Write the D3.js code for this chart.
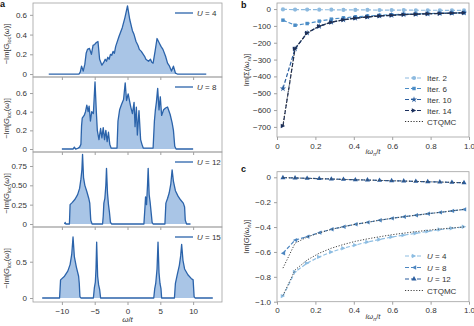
<!DOCTYPE html>
<html>
<head>
<meta charset="utf-8">
<script src="https://cdn.jsdelivr.net/npm/d3@7"></script>
<style>
  body { margin: 0; background: #fff; }
  svg text { font-family: "Liberation Sans", Arial, sans-serif; fill: #333; }
</style>
</head>
<body>
<div class="chart"></div>
<script>
// ---- data ----
// panel a: local spectral functions, [omega, -Im G]
var dosU4 = [[-12,0],[-7.4,0],[-7.2,0.02],[-7.0,0.08],[-6.75,0.03],[-6.5,0.1],[-6.3,0.21],[-6.1,0.25],[-5.8,0.26],[-5.5,0.2],[-5.25,0.29],[-5.0,0.3],[-4.75,0.32],[-4.5,0.33],[-4.25,0.15],[-3.9,0.09],[-3.6,0.12],[-3.4,0.15],[-3.2,0.13],[-3.0,0.17],[-2.8,0.15],[-2.6,0.2],[-2.4,0.19],[-2.2,0.23],[-2.0,0.21],[-1.8,0.28],[-1.3,0.38],[-0.8,0.47],[-0.4,0.57],[0,0.69],[0.35,0.55],[0.75,0.44],[1.0,0.4],[1.3,0.33],[1.6,0.29],[1.8,0.25],[2.1,0.23],[2.3,0.21],[2.6,0.18],[2.8,0.15],[3.0,0.14],[3.2,0.13],[3.5,0.15],[3.7,0.12],[3.9,0.11],[4.2,0.23],[4.5,0.36],[4.8,0.32],[5.1,0.28],[5.4,0.25],[5.8,0.18],[6.1,0.11],[6.4,0.08],[6.7,0.03],[7.0,0.08],[7.3,0.01],[7.6,0],[12,0]];
var dosU8 = [[-10,0],[-8.3,0],[-8.1,0.02],[-7.9,0],[-7.5,0.01],[-7.3,0.02],[-7.1,0.05],[-7.0,0.25],[-6.9,0.33],[-6.6,0.36],[-6.4,0.4],[-6.2,0.47],[-6.0,0.4],[-5.85,0.46],[-5.65,0.3],[-5.45,0.4],[-5.2,0.38],[-4.95,0.72],[-4.75,0.4],[-4.6,0.2],[-4.35,0.1],[-4.1,0.22],[-3.9,0.12],[-3.7,0.23],[-3.5,0.1],[-3.3,0.2],[-3.1,0.08],[-2.9,0.18],[-2.7,0.05],[-2.5,0.01],[-1.6,0.01],[-1.45,0.3],[-1.2,0.42],[-0.9,0.48],[-0.6,0.53],[-0.35,0.71],[-0.15,0.52],[0.1,0.59],[0.5,0.45],[0.75,0.38],[1.0,0.5],[1.15,0.24],[1.35,0.45],[1.5,0.15],[1.75,0.41],[2.0,0.1],[2.2,0.05],[2.4,0.01],[3.9,0.01],[4.1,0.3],[4.25,0.42],[4.4,0.5],[4.6,0.65],[4.8,0.42],[5.0,0.56],[5.2,0.36],[5.5,0.42],[5.8,0.44],[6.1,0.45],[6.5,0.37],[6.8,0.28],[7.0,0.2],[7.2,0.03],[7.4,0],[10,0]];
var dosU12 = [[-9.6,0],[-9.5,0.02],[-9.4,0],[-8.85,0],[-8.75,0.25],[-8.4,0.28],[-8.0,0.32],[-7.6,0.38],[-7.3,0.46],[-7.1,0.58],[-6.95,0.7],[-6.85,0.9],[-6.7,0.6],[-6.5,0.5],[-6.2,0.42],[-5.9,0.33],[-5.75,0.27],[-5.6,0.05],[-5.4,0],[-3.8,0],[-3.7,0.1],[-3.6,0.27],[-3.45,0.33],[-3.3,0.5],[-3.2,0.72],[-3.05,0.4],[-2.9,0.25],[-2.75,0.15],[-2.6,0.02],[-2.4,0],[2.5,0],[2.65,0.2],[2.75,0.35],[2.9,0.25],[3.05,0.5],[3.15,0.72],[3.3,0.38],[3.45,0.28],[3.6,0.15],[3.75,0.02],[3.9,0],[5.7,0],[5.85,0.27],[6.1,0.33],[6.35,0.4],[6.6,0.52],[6.8,0.7],[7.0,0.55],[7.3,0.43],[7.7,0.36],[8.1,0.31],[8.5,0.27],[8.7,0.22],[8.8,0.05],[9.0,0],[9.6,0]];
var dosU15 = [[-13,0],[-10.35,0],[-10.2,0.25],[-9.6,0.3],[-9.1,0.37],[-8.75,0.46],[-8.5,0.6],[-8.3,0.84],[-8.1,0.57],[-7.8,0.43],[-7.45,0.3],[-7.35,0.2],[-7.25,0.02],[-7.1,0],[-5.2,0],[-5.05,0.14],[-4.9,0.22],[-4.8,0.4],[-4.7,0.77],[-4.55,0.3],[-4.4,0.18],[-4.25,0.12],[-4.1,0],[4.0,0],[4.15,0.13],[4.3,0.2],[4.5,0.4],[4.65,0.77],[4.8,0.35],[4.95,0.2],[5.1,0.13],[5.2,0],[7.15,0],[7.3,0.2],[7.6,0.33],[7.9,0.45],[8.1,0.58],[8.25,0.74],[8.45,0.52],[8.7,0.4],[9.2,0.32],[9.7,0.27],[10.0,0.25],[10.15,0.02],[10.3,0],[13,0]];
var dosU = [4, 8, 12, 15];

// Matsubara frequencies (panels b, c)
var wn = [0.031,0.094,0.157,0.220,0.283,0.346,0.408,0.471,0.534,0.597,0.660,0.723,0.785,0.848,0.911,0.974];

// panel b: Im Sigma
var sigIter2  = [-2,-3,-3,-4,-4,-5,-5,-5,-6,-6,-6,-7,-7,-7,-8,-8];
var sigIter6  = [-66,-96,-86,-72,-60,-52,-46,-41,-37,-34,-31,-29,-27,-25,-24,-22];
var sigIter10 = [-472,-236,-142,-102,-78,-64,-54,-47,-41,-37,-33,-30.5,-28,-26,-24,-22.6];
var sigIter14 = [-695,-236,-142,-102,-78,-64,-54,-47,-41,-37,-33,-30.5,-28,-26,-24,-22.6];
var sigCTQMC  = [-690,-234,-141,-101,-78,-64,-54,-47,-41,-37,-33,-30.5,-28,-26,-24,-22.6];

// panel c: Im G
var gU4  = [-0.955,-0.76,-0.69,-0.64,-0.6,-0.57,-0.545,-0.52,-0.5,-0.48,-0.465,-0.45,-0.435,-0.42,-0.41,-0.398];
var gU8  = [-0.61,-0.505,-0.477,-0.445,-0.418,-0.397,-0.378,-0.362,-0.345,-0.33,-0.317,-0.305,-0.293,-0.282,-0.27,-0.258];
var gU12 = [-0.003,-0.005,-0.008,-0.011,-0.014,-0.017,-0.02,-0.022,-0.025,-0.028,-0.03,-0.033,-0.036,-0.038,-0.041,-0.044];
var gCT4  = [-0.95,-0.745,-0.665,-0.61,-0.57,-0.54,-0.515,-0.495,-0.478,-0.462,-0.449,-0.437,-0.426,-0.416,-0.407,-0.399];
var gCT8  = [-0.73,-0.53,-0.48,-0.447,-0.419,-0.397,-0.378,-0.362,-0.345,-0.33,-0.317,-0.305,-0.293,-0.282,-0.27,-0.258];
var gCT12 = [-0.003,-0.005,-0.008,-0.011,-0.014,-0.017,-0.02,-0.022,-0.025,-0.028,-0.03,-0.033,-0.036,-0.038,-0.041,-0.044];

var aTicksX = [-10, -5, 0, 5, 10];
var bTicksY = [0, -100, -200, -300, -400, -500, -600, -700];
var cTicksY = [0, -0.2, -0.4, -0.6, -0.8, -1.0];
var bcTicksX = [0, 0.2, 0.4, 0.6, 0.8, 1.0];

var width = 474, height = 326;
var frameCol = "#a0a0a0";
var fs = 8;

var svg = d3.select(".chart").append("svg")
  .attr("width", width).attr("height", height);

function minus(s) { return String(s).replace("-", "\u2212"); }

// ---------- panel a ----------
var ax = d3.scaleLinear().domain([-14.4, 14.4]).range([33, 222]);
var aPanels = [
  { data: dosU4,  top: 3,   bot: 77,  dom: [-0.03, 0.72],  ticks: [0, 0.2, 0.4, 0.6], fmt: function(d){ return d === 0 ? "0" : d3.format(".1f")(d); } },
  { data: dosU8,  top: 77,  bot: 152, dom: [-0.032, 0.772], ticks: [0, 0.2, 0.4, 0.6], fmt: function(d){ return d === 0 ? "0" : d3.format(".1f")(d); } },
  { data: dosU12, top: 152, bot: 227, dom: [-0.039, 0.931], ticks: [0, 0.25, 0.5, 0.75], fmt: function(d){ return d === 0 ? "0" : d3.format(".2f")(d); } },
  { data: dosU15, top: 227, bot: 302, dom: [-0.055, 0.978], ticks: [0, 0.5], fmt: function(d){ return d === 0 ? "0" : d3.format(".1f")(d); } }
];

aPanels.forEach(function(p, i) {
  var y = d3.scaleLinear().domain(p.dom).range([p.bot, p.top]);
  var g = svg.append("g");
  var clipId = "clipA" + i;
  svg.append("clipPath").attr("id", clipId).append("rect")
    .attr("x", 33).attr("y", p.top).attr("width", 189).attr("height", p.bot - p.top);

  var area = d3.area().x(function(d){ return ax(d[0]); }).y0(y(0)).y1(function(d){ return y(d[1]); });
  var line = d3.line().x(function(d){ return ax(d[0]); }).y(function(d){ return y(d[1]); });
  g.append("path").datum(p.data).attr("d", area).attr("fill", "#a9c5e6").attr("clip-path", "url(#" + clipId + ")");
  g.append("path").datum(p.data).attr("d", line).attr("fill", "none")
    .attr("stroke", "#2b63aa").attr("stroke-width", 1.3).attr("stroke-linejoin", "round")
    .attr("clip-path", "url(#" + clipId + ")");

  g.append("rect").attr("x", 33).attr("y", p.top).attr("width", 189).attr("height", p.bot - p.top)
    .attr("fill", "none").attr("stroke", frameCol).attr("stroke-width", 0.8);

  var yAxis = g.append("g").attr("transform", "translate(33,0)")
    .call(d3.axisLeft(y).tickValues(p.ticks).tickSize(3).tickFormat(p.fmt));
  yAxis.select(".domain").remove();
  yAxis.selectAll("line").attr("stroke", frameCol);
  yAxis.selectAll("text").attr("font-size", fs).attr("fill", "#333").attr("font-family", "Liberation Sans, Arial");

  var xAxis = g.append("g").attr("transform", "translate(0," + p.bot + ")")
    .call(d3.axisBottom(ax).tickValues(aTicksX).tickSize(3).tickFormat(i === 3 ? function(d){ return minus(d); } : ""));
  xAxis.select(".domain").remove();
  xAxis.selectAll("line").attr("stroke", frameCol);
  xAxis.selectAll("text").attr("font-size", fs).attr("fill", "#333").attr("font-family", "Liberation Sans, Arial");

  // legend
  var ly = p.top + 10;
  g.append("line").attr("x1", 175).attr("x2", 193).attr("y1", ly).attr("y2", ly)
    .attr("stroke", "#2b63aa").attr("stroke-width", 1.3);
  var t = g.append("text").attr("x", 197).attr("y", ly + 3).attr("font-size", fs);
  t.append("tspan").attr("font-style", "italic").text("U");
  t.append("tspan").text(" = " + dosU[i]);

  // y label
  var yl = g.append("text").attr("transform", "translate(9," + ((p.top + p.bot) / 2 + 4) + ") rotate(-90)")
    .attr("text-anchor", "middle").attr("font-size", 7.5);
  yl.append("tspan").text("\u2212Im[");
  yl.append("tspan").attr("font-style", "italic").text("G");
  yl.append("tspan").attr("font-size", 5.5).attr("dy", 2).text("loc");
  yl.append("tspan").attr("dy", -2).text("(");
  yl.append("tspan").attr("font-style", "italic").text("\u03c9");
  yl.append("tspan").text(")]");
});

var axl = svg.append("text").attr("x", 127.5).attr("y", 322).attr("text-anchor", "middle").attr("font-size", fs);
axl.append("tspan").attr("font-style", "italic").text("\u03c9");
axl.append("tspan").text("/");
axl.append("tspan").attr("font-style", "italic").text("t");

svg.append("text").attr("x", 0).attr("y", 7).attr("font-size", 9).attr("font-weight", "bold").style("fill", "#111").text("a");
svg.append("text").attr("x", 241).attr("y", 8).attr("font-size", 9).attr("font-weight", "bold").style("fill", "#111").text("b");
svg.append("text").attr("x", 241).attr("y", 172).attr("font-size", 9).attr("font-weight", "bold").style("fill", "#111").text("c");

// ---------- marker shapes ----------
function triRight(s) { return "M" + (-s) + "," + (-s) + "L" + s + ",0L" + (-s) + "," + s + "Z"; }
function triLeft(s)  { return "M" + s + "," + (-s) + "L" + (-s) + ",0L" + s + "," + s + "Z"; }
function markerPath(kind) {
  if (kind === "circle") return d3.symbol(d3.symbolCircle, 14)();
  if (kind === "square") return d3.symbol(d3.symbolSquare, 12)();
  if (kind === "star") return d3.symbol(d3.symbolStar, 12)();
  if (kind === "tri") return d3.symbol(d3.symbolTriangle, 11)();
  if (kind === "right") return triRight(2.2);
  if (kind === "left") return triLeft(2.2);
}

function drawPanel(opt) {
  var x = d3.scaleLinear().domain([0, 1]).range([277, 469]);
  var y = d3.scaleLinear().domain(opt.ydom).range([opt.bot, opt.top]);
  var g = svg.append("g");

  g.append("rect").attr("x", 277).attr("y", opt.top).attr("width", 192).attr("height", opt.bot - opt.top)
    .attr("fill", "none").attr("stroke", frameCol).attr("stroke-width", 0.8);

  var yAxis = g.append("g").attr("transform", "translate(277,0)")
    .call(d3.axisLeft(y).tickValues(opt.yticks).tickSize(3).tickFormat(opt.yfmt));
  yAxis.select(".domain").remove();
  yAxis.selectAll("line").attr("stroke", frameCol);
  yAxis.selectAll("text").attr("font-size", fs).attr("fill", "#333").attr("font-family", "Liberation Sans, Arial");

  var xAxis = g.append("g").attr("transform", "translate(0," + opt.bot + ")")
    .call(d3.axisBottom(x).tickValues(bcTicksX).tickSize(3).tickFormat(function(d){ return d === 0 ? "0" : d3.format(".1f")(d); }));
  xAxis.select(".domain").remove();
  xAxis.selectAll("line").attr("stroke", frameCol);
  xAxis.selectAll("text").attr("font-size", fs).attr("fill", "#333").attr("font-family", "Liberation Sans, Arial");

  var line = d3.line().x(function(d, i){ return x(wn[i]); }).y(function(d){ return y(d); });

  opt.series.forEach(function(s) {
    g.append("path").datum(s.values).attr("d", line).attr("fill", "none")
      .attr("stroke", s.color).attr("stroke-width", s.dotted ? 1 : 1.2)
      .attr("stroke-dasharray", s.dotted ? "1.2,1.6" : "4,2");
    if (s.marker) {
      g.selectAll(null).data(s.values).enter().append("path")
        .attr("d", markerPath(s.marker))
        .attr("transform", function(d, i){ return "translate(" + x(wn[i]) + "," + y(d) + ")"; })
        .attr("fill", s.color);
    }
  });

  // legend
  opt.legend.forEach(function(s, i) {
    var ly = opt.legY[i];
    g.append("line").attr("x1", 405).attr("x2", 423).attr("y1", ly).attr("y2", ly)
      .attr("stroke", s.color).attr("stroke-width", s.dotted ? 1 : 1.2)
      .attr("stroke-dasharray", s.dotted ? "1.2,1.6" : "4,2");
    if (s.marker) {
      g.append("path").attr("d", markerPath(s.marker)).attr("transform", "translate(414," + ly + ")").attr("fill", s.color);
    }
    var t = g.append("text").attr("x", 427).attr("y", ly + 3).attr("font-size", fs);
    if (s.uval) {
      t.append("tspan").attr("font-style", "italic").text("U");
      t.append("tspan").text(" = " + s.uval);
    } else {
      t.text(s.name);
    }
  });

  // y label
  var yl = g.append("text").attr("transform", "translate(249," + ((opt.top + opt.bot) / 2) + ") rotate(-90)")
    .attr("text-anchor", "middle").attr("font-size", 7.5);
  opt.ylabel(yl);

  var xl = g.append("text").attr("x", 373).attr("y", opt.bot + 17).attr("text-anchor", "middle").attr("font-size", 7.5);
  xl.append("tspan").attr("font-style", "italic").text("i\u03c9");
  xl.append("tspan").attr("font-style", "italic").attr("font-size", 5.5).attr("dy", 2).text("n");
  xl.append("tspan").attr("dy", -2).text("/");
  xl.append("tspan").attr("font-style", "italic").text("t");
}

// ---------- panel b ----------
var bSeries = [
  { name: "Iter. 2",  values: sigIter2,  color: "#8dbadf", marker: "circle" },
  { name: "Iter. 6",  values: sigIter6,  color: "#4a8cc6", marker: "square" },
  { name: "Iter. 10", values: sigIter10, color: "#2c5f9f", marker: "star" },
  { name: "Iter. 14", values: sigIter14, color: "#1b2f5c", marker: "right" },
  { name: "CTQMC",    values: sigCTQMC,  color: "#333",    dotted: true }
];
drawPanel({
  top: 3, bot: 137, ydom: [-760, 36],
  yticks: bTicksY, yfmt: function(d){ return minus(d); },
  series: bSeries, legend: bSeries, legY: [78, 88.5, 99.5, 110.5, 121.5],
  ylabel: function(t) {
    t.append("tspan").text("Im[\u03a3(");
    t.append("tspan").attr("font-style", "italic").text("i\u03c9");
    t.append("tspan").attr("font-style", "italic").attr("font-size", 5.5).attr("dy", 2).text("n");
    t.append("tspan").attr("dy", -2).text(")]");
  }
});

// ---------- panel c ----------
var cSeries = [
  { uval: 4,  values: gU4,  color: "#8dbde2", marker: "right" },
  { uval: 8,  values: gU8,  color: "#4d86c0", marker: "left" },
  { uval: 12, values: gU12, color: "#2a5d9e", marker: "tri" },
  { name: "CTQMC", values: gCT4,  color: "#444", dotted: true },
  { name: "CTQMC", values: gCT8,  color: "#444", dotted: true },
  { name: "CTQMC", values: gCT12, color: "#444", dotted: true }
];
drawPanel({
  top: 171.7, bot: 301.7, ydom: [-1.0, 0.045],
  yticks: cTicksY, yfmt: function(d){ return d === 0 ? "0" : minus(d3.format(".1f")(d)); },
  series: cSeries, legend: cSeries.slice(0, 4), legY: [256, 267.5, 279, 290.5],
  ylabel: function(t) {
    t.append("tspan").text("Im[");
    t.append("tspan").attr("font-style", "italic").text("G");
    t.append("tspan").text("(");
    t.append("tspan").attr("font-style", "italic").text("i\u03c9");
    t.append("tspan").attr("font-style", "italic").attr("font-size", 5.5).attr("dy", 2).text("n");
    t.append("tspan").attr("dy", -2).text(")]");
  }
});
</script>
</body>
</html>
